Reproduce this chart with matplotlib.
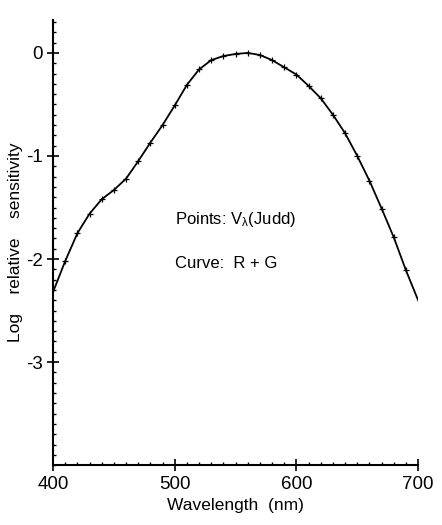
import matplotlib
matplotlib.use("Agg")
import matplotlib.pyplot as plt
from matplotlib.ticker import MultipleLocator

plt.rcParams['font.family'] = ['Liberation Sans', 'DejaVu Sans']

wl_points = [410, 420, 430, 440, 450, 460, 470, 480, 490, 500, 510, 520, 530, 540, 550,
             560, 570, 580, 590, 600, 610, 620, 630, 640, 650, 660, 670, 680, 690]
judd_points = [-2.02, -1.75, -1.56, -1.42, -1.33, -1.22, -1.05, -0.87, -0.70, -0.51, -0.31, -0.16,
               -0.07, -0.03, -0.01, 0.0, -0.02, -0.07, -0.14, -0.21, -0.32, -0.44, -0.60, -0.78,
               -1.00, -1.24, -1.51, -1.79, -2.11]
wl_curve = [400] + wl_points + [700]
rg_curve = [-2.32] + judd_points + [-2.40]

fig = plt.figure(figsize=(4.42, 5.25), dpi=100)
ax = fig.add_axes([0.12, 0.114, 0.826, 0.848])
ax.plot(wl_curve, rg_curve, color='black', lw=1.3)
ax.plot(wl_points, judd_points, linestyle='none', marker='+', color='black', ms=5, mew=0.9)

ax.set_xlim(400, 700)
ax.set_ylim(-4, 0.32)
ax.spines['top'].set_visible(False)
ax.spines['right'].set_visible(False)
for s in ('left', 'bottom'):
    ax.spines[s].set_linewidth(1.5)
ax.set_xticks([400, 500, 600, 700])
ax.set_yticks([0, -1, -2, -3])
ax.set_yticklabels(['0', '-1', '-2', '-3'])
ax.xaxis.set_minor_locator(MultipleLocator(10))
ax.yaxis.set_minor_locator(MultipleLocator(0.1))
ax.tick_params(which='major', direction='inout', length=8, width=1.2, labelsize=13.5)
ax.tick_params(which='minor', direction='in', length=2.5, width=1)
ax.set_xlabel('Wavelength  (nm)', fontsize=12.5)
ax.set_ylabel('Log    relative    sensitivity', fontsize=12.5, labelpad=2)
ax.text(500, -1.62, r'Points: $\mathregular{V_\lambda}$(Judd)', fontsize=12, va='center')
ax.text(500, -2.04, 'Curve:  R + G', fontsize=12, va='center')
fig.savefig('out.png', dpi=100)
